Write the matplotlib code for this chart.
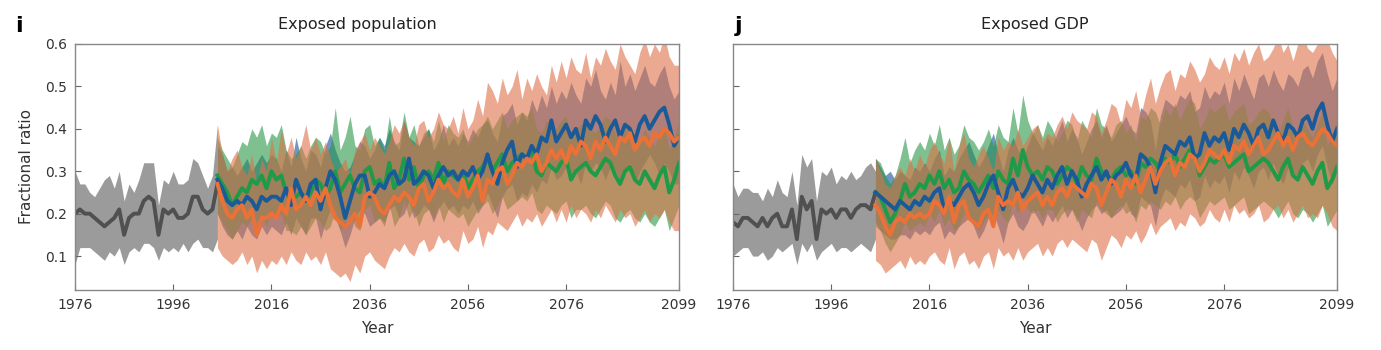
import numpy as np
import matplotlib
matplotlib.use('Agg')
import matplotlib.pyplot as plt

# years
hist_years = np.arange(1976, 2006)
fut_start = 2005

# ---- panel i : exposed population (values x100) ----
hist_mean_i = [20,21,20,20,19,18,17,18,19,21,15,19,20,20,23,24,23,15,21,20,21,19,19,20,24,24,21,20,21,27]
hist_hi_i = [30,27,27,25,24,26,28,29,26,30,23,27,25,28,32,32,32,22,28,27,30,27,27,28,33,32,29,26,29,41]
hist_lo_i = [8,12,12,12,11,10,9,11,10,12,8,11,12,11,13,13,12,9,12,11,12,11,13,11,13,14,12,12,11,14]

blue_i = [28,26,23,22,23,22,24,23,21,24, 23,24,24,23,26,22,28,25,23,27,
          28,21,26,30,28,24,19,23,27,29, 29,24,25,27,26,29,30,27,28,33,
          27,28,30,29,26,29,31,29,30,28, 30,29,31,28,30,34,30,27,32,35,
          37,31,34,33,36,34,38,37,42,37, 39,41,38,40,36,42,40,43,41,37,
          40,42,38,41,40,37,41,43,40,42, 44,45,41,36,38]
blue_hi_i = [36,34,30,31,29,31,33,30,32,34, 32,34,33,30,35,31,38,33,30,35,
             34,31,36,39,35,32,30,31,34,37, 36,33,35,38,36,40,37,35,42,38,
             37,36,38,40,35,37,41,36,38,36, 39,37,40,38,41,42,39,37,43,44,
             46,41,44,42,47,44,48,45,50,46, 49,47,51,48,46,52,50,54,49,47,
             51,48,56,50,53,49,52,55,51,50, 53,55,50,47,49]
blue_lo_i = [20,17,15,14,16,14,17,15,14,17, 15,17,16,15,18,15,19,17,15,19,
             19,14,18,21,19,16,12,15,19,21, 20,17,18,19,18,21,22,19,20,23,
             19,20,22,21,18,21,23,21,22,20, 22,21,23,20,22,25,22,19,24,26,
             27,23,25,24,27,25,28,27,31,28, 29,31,28,30,27,32,30,32,31,28,
             31,30,28,30,32,27,30,32,34,32, 29,32,30,27,27]

green_i = [29,27,25,22,24,26,25,28,27,29, 26,30,28,29,25,24,24,25,23,25,
           28,27,24,26,30,25,27,29,26,25, 30,31,27,28,26,32,26,28,33,28,
           31,26,29,30,28,32,27,30,29,28, 30,26,28,30,31,33,30,32,34,30,
           32,33,34,33,35,30,29,32,31,30, 32,33,28,30,31,32,30,29,31,33,
           32,29,27,30,31,28,27,30,28,26, 29,31,25,28,32]
green_hi_i = [38,35,33,31,34,37,36,40,38,41, 36,39,38,41,35,33,34,36,33,36,
              38,37,34,36,45,35,38,43,36,35, 40,41,36,38,35,43,36,37,44,38,
              41,36,39,40,37,42,37,41,39,38, 40,36,38,40,41,43,40,42,44,40,
              42,43,44,43,45,40,39,42,41,40, 42,43,38,40,41,42,40,39,41,43,
              42,39,37,40,41,38,37,40,38,36, 39,41,35,38,42]
green_lo_i = [20,18,16,14,16,18,17,19,18,20, 17,21,19,20,16,16,15,17,15,17,
              19,18,16,17,21,16,18,20,17,16, 21,22,18,19,17,22,17,19,23,19,
              21,17,20,21,19,22,18,21,20,19, 20,17,19,21,22,23,20,22,24,21,
              22,23,24,23,25,21,20,22,21,20, 22,23,19,21,21,22,20,19,21,23,
              22,19,18,20,21,19,18,20,18,17, 19,21,16,19,22]

orange_i = [27,23,20,19,21,22,19,21,15,19, 19,20,19,22,20,26,21,22,24,22,
            25,23,26,22,19,18,17,18,20,17, 24,25,24,21,20,22,24,23,25,24,
            22,26,27,23,25,28,26,27,25,24, 28,24,26,29,23,28,27,30,31,27,
            29,32,31,33,32,34,30,32,35,33, 35,32,36,34,37,36,33,37,35,38,
            36,34,38,37,39,35,37,38,36,39, 38,40,39,37,38]
orange_hi_i = [41,34,30,33,35,31,29,34,27,33, 30,38,32,40,34,38,33,36,41,35,
               38,34,37,33,30,31,33,29,35,37, 39,35,38,36,34,37,41,39,42,38,
               36,41,42,38,40,44,41,40,43,39, 45,40,42,47,43,51,49,46,52,48,
               50,54,47,52,49,53,50,48,55,51, 56,52,57,54,53,58,52,57,55,59,
               56,54,60,57,55,53,58,61,57,60, 58,62,57,55,55]
orange_lo_i = [12,10,9,8,9,11,8,10,6,9, 7,9,8,10,8,11,9,8,11,9,
               10,8,11,7,6,5,6,4,8,6, 10,11,9,8,7,10,12,11,13,11,
               10,13,14,11,12,15,13,14,12,11, 16,13,14,17,12,16,15,18,17,16,
               18,20,17,19,18,20,17,19,21,18, 21,18,22,19,21,20,18,21,19,22,
               20,18,21,19,20,17,19,21,18,20, 19,21,18,16,16]

# ---- panel j : exposed GDP (values x100) ----
hist_mean_j = [18,17,19,19,18,17,19,17,19,20,17,17,21,14,24,21,23,14,21,20,21,19,21,21,19,21,22,22,21,25]
hist_hi_j = [27,24,26,26,25,25,23,26,24,28,25,24,30,22,34,31,33,23,30,29,31,27,29,28,30,28,29,31,32,30]
hist_lo_j = [10,11,12,12,10,10,11,9,10,12,11,12,13,8,13,11,13,9,11,12,13,11,12,12,11,12,13,12,11,14]

blue_j = [25,24,23,22,21,23,22,21,23,22, 24,23,25,26,21,23,22,24,26,27,
          25,22,24,27,29,25,21,26,28,25, 24,26,29,27,25,28,26,29,31,27,
          30,28,24,27,29,31,28,30,27,29, 30,32,29,28,34,33,31,25,32,36,
          35,34,37,36,38,33,34,39,36,38, 37,39,35,40,38,41,39,36,40,41,
          38,42,39,37,41,40,38,42,43,40, 44,46,41,37,40]
blue_hi_j = [33,31,29,30,28,30,29,28,31,30, 32,30,33,35,29,31,30,33,35,37,
             34,31,33,36,39,34,30,35,38,35, 33,36,39,37,35,38,36,39,42,37,
             40,38,34,37,40,42,38,41,37,39, 41,43,40,39,45,44,42,35,43,47,
             46,45,48,47,49,44,45,50,47,49, 48,51,46,52,49,53,50,47,52,53,
             50,54,51,49,53,52,50,54,55,52, 56,58,53,49,52]
blue_lo_j = [18,16,15,14,14,15,15,14,16,15, 16,15,17,18,14,16,15,17,18,19,
             17,14,16,19,20,17,13,18,20,17, 16,18,21,19,17,20,18,20,22,19,
             21,19,16,19,21,22,20,21,19,20, 21,23,20,19,24,23,22,17,23,26,
             25,24,27,26,28,23,24,29,26,28, 27,29,25,30,28,31,29,26,30,31,
             28,32,29,27,31,30,28,32,33,30, 34,36,31,27,30]

green_j = [25,24,21,18,20,23,27,24,25,27, 26,29,27,30,26,28,25,26,30,28,
           27,25,27,29,26,30,28,27,33,29, 35,31,29,30,28,31,30,27,29,31,
           30,27,31,29,28,33,30,29,28,30, 31,29,30,27,32,31,33,32,30,33,
           32,34,31,33,35,34,29,31,33,32, 33,34,31,32,33,34,30,31,32,33,
           32,30,28,31,33,29,28,31,29,27, 30,32,26,28,31]
green_hi_j = [33,32,29,27,29,33,38,32,35,37, 35,39,36,41,35,38,34,36,41,38,
              37,35,37,40,36,41,38,37,45,39, 48,42,39,41,38,42,40,37,39,42,
              41,37,42,40,38,45,41,40,38,41, 42,39,41,37,43,42,45,44,41,45,
              43,46,42,45,47,46,40,42,45,44, 45,46,42,44,45,46,41,42,44,45,
              44,41,39,42,45,40,39,42,40,38, 41,44,36,39,42]
green_lo_j = [17,16,13,11,13,15,18,16,17,18, 17,20,18,21,17,19,16,17,20,19,
              18,16,18,20,17,21,19,18,23,20, 24,21,20,21,19,21,21,18,20,21,
              21,18,21,20,19,23,21,20,19,21, 22,20,21,18,22,21,23,22,21,23,
              22,24,21,23,24,23,19,21,23,22, 23,24,21,22,23,24,20,21,22,23,
              22,21,19,21,23,20,19,21,20,18, 20,22,17,19,21]

orange_j = [22,20,17,15,18,19,18,20,19,20, 19,20,23,22,20,24,18,22,23,19,
            18,17,20,21,17,24,22,23,22,25, 21,23,24,25,22,24,22,25,26,24,
            27,26,25,24,27,26,22,25,28,27, 24,28,26,29,25,28,31,27,30,32,
            33,29,32,31,34,33,30,32,35,34, 33,35,32,36,35,37,34,36,38,34,
            35,37,39,36,38,35,38,39,37,36, 38,40,39,37,36]
orange_hi_j = [33,30,27,26,29,31,29,33,30,34, 31,35,37,34,32,38,30,36,39,33,
               31,34,36,33,30,38,35,37,36,40, 36,38,40,41,37,39,38,41,43,40,
               44,42,41,40,44,43,39,42,46,45, 41,47,45,49,43,48,52,46,50,53,
               54,49,53,52,56,54,51,53,57,55, 54,57,53,58,56,59,55,58,60,56,
               57,59,62,58,60,56,60,62,59,58, 60,63,61,58,56]
orange_lo_j = [9,8,6,7,8,9,7,10,8,9, 8,10,11,9,8,12,7,10,11,8,
               9,7,10,11,7,12,10,11,9,12, 9,11,12,13,10,12,10,13,14,12,
               14,13,12,11,14,13,9,12,15,14, 12,15,14,16,13,15,18,15,17,18,
               19,16,18,17,20,19,17,18,21,19, 18,21,18,22,20,21,19,20,22,18,
               19,21,22,19,21,18,20,22,19,20, 19,22,20,17,16]

xticks = [1976, 1996, 2016, 2036, 2056, 2076, 2099]
yticks = [0.1, 0.2, 0.3, 0.4, 0.5, 0.6]

c_grey_line = '#505050'
c_grey_band = '#9b9b9b'
c_blue = '#1b5a98'
c_green = '#1f9a48'
c_orange = '#ec7136'

plt.rcParams['font.family'] = ['DejaVu Sans']

fig = plt.figure(figsize=(13.81, 3.5), dpi=100)
ax1 = fig.add_axes([0.0543, 0.1714, 0.4374, 0.703])
ax2 = fig.add_axes([0.5308, 0.1714, 0.4374, 0.703])


def yrs(s):
    return fut_start + np.arange(len(s))


def draw(ax, hm, hh, hl, b, bh, bl, g, gh, gl, o, oh, ol):
    v = lambda s: np.array(s) / 100.0
    ax.fill_between(hist_years, v(hl), v(hh), color=c_grey_band, lw=0)
    ax.fill_between(yrs(bl), v(bl), v(bh), color='#0d509b', alpha=0.6, lw=0)
    ax.fill_between(yrs(gl), v(gl), v(gh), color='#289646', alpha=0.6, lw=0)
    ax.fill_between(yrs(ol), v(ol), v(oh), color='#de7148', alpha=0.6, lw=0)
    ax.plot(hist_years, v(hm), color=c_grey_line, lw=2.8)
    ax.plot(yrs(g), v(g), color=c_green, lw=2.8)
    ax.plot(yrs(b), v(b), color=c_blue, lw=2.8)
    ax.plot(yrs(o), v(o), color=c_orange, lw=2.8)
    ax.set_xlim(1976, 2099)
    ax.set_ylim(0.02, 0.6)
    ax.set_xticks(xticks)
    ax.set_yticks(yticks)
    ax.tick_params(direction='in', length=4, color='#666666', labelsize=10,
                   labelcolor='#333333', pad=6)
    for sp in ax.spines.values():
        sp.set_color('#888888')
        sp.set_linewidth(1.0)
    ax.set_xlabel('Year', fontsize=11, color='#333333', labelpad=6)


draw(ax1, hist_mean_i, hist_hi_i, hist_lo_i, blue_i, blue_hi_i, blue_lo_i,
     green_i, green_hi_i, green_lo_i, orange_i, orange_hi_i, orange_lo_i)
draw(ax2, hist_mean_j, hist_hi_j, hist_lo_j, blue_j, blue_hi_j, blue_lo_j,
     green_j, green_hi_j, green_lo_j, orange_j, orange_hi_j, orange_lo_j)

ax1.set_ylabel('Fractional ratio', fontsize=11, color='#333333', labelpad=8)
ax1.set_yticklabels(['0.1', '0.2', '0.3', '0.4', '0.5', '0.6'])
ax2.set_yticklabels([])

ax1.text(0.467, 1.05, 'Exposed population', transform=ax1.transAxes,
         ha='center', va='bottom', fontsize=11.5, color='#222222')
ax2.text(0.5, 1.05, 'Exposed GDP', transform=ax2.transAxes,
         ha='center', va='bottom', fontsize=11.5, color='#222222')

fig.text(0.011, 0.925, 'i', fontsize=16, fontweight='bold', va='center')
fig.text(0.532, 0.925, 'j', fontsize=16, fontweight='bold', va='center')

plt.savefig('out.png', dpi=100)
plt.close()
